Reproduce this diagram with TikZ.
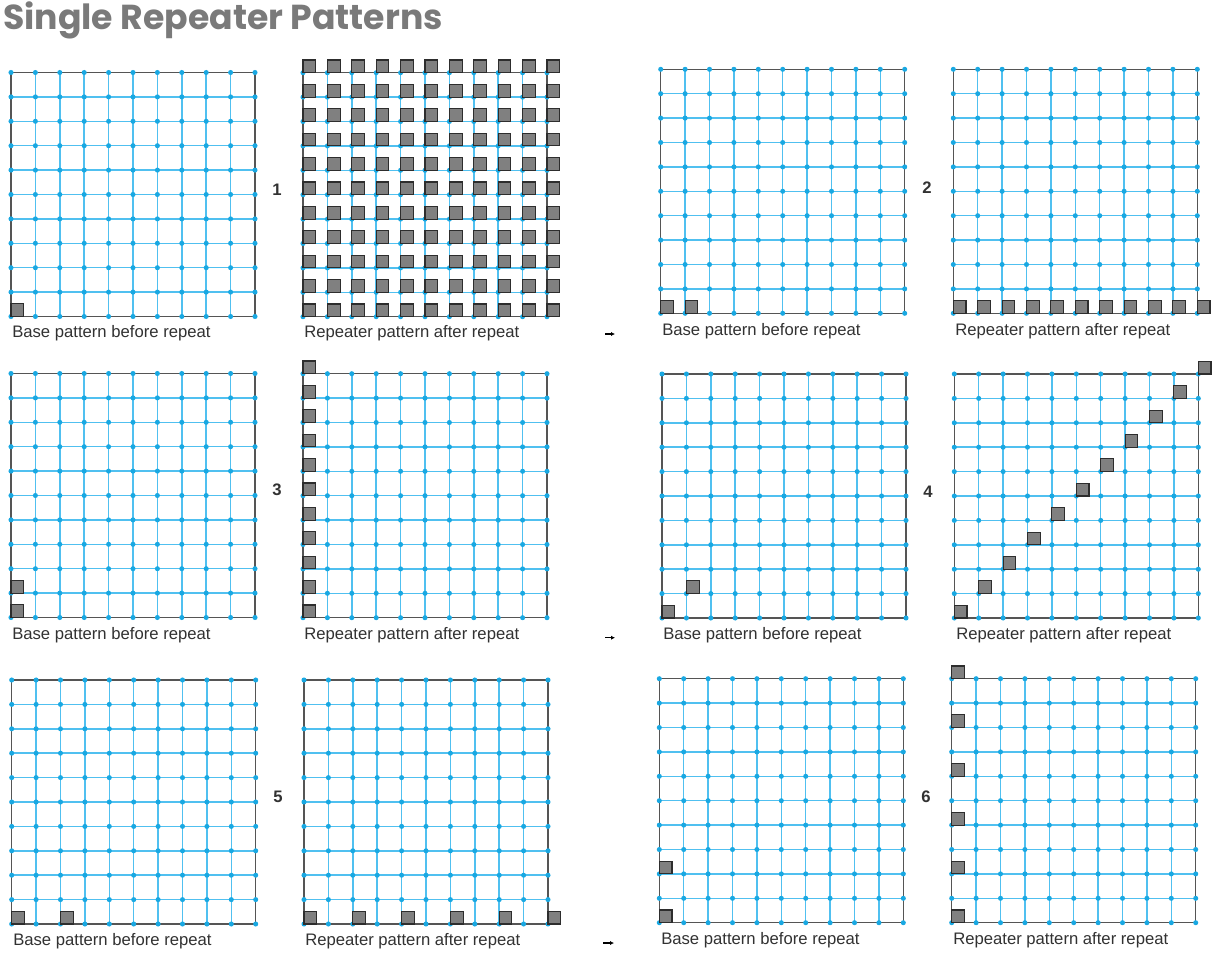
\documentclass[tikz,border=0pt]{standalone}
\usepackage{fontspec}
\setmainfont{Liberation Sans}
\newfontfamily\titlefont{Poppins}
\usetikzlibrary{arrows.meta}
\definecolor{gridcyan}{RGB}{80,192,240}
\definecolor{dotcyan}{RGB}{25,168,226}
\definecolor{bordergray}{RGB}{85,85,85}
\definecolor{squarefill}{RGB}{128,128,128}
\definecolor{squareedge}{RGB}{45,45,45}
\definecolor{labelgray}{RGB}{50,50,50}
\definecolor{titlegray}{RGB}{122,122,122}
\tikzset{
  gridline/.style={draw=gridcyan, line width=1.1pt},
  gridborder/.style={draw=bordergray, line width=1.1pt},
  sqbox/.style={fill=squarefill, draw=squareedge, line width=0.8pt},
  caption/.style={anchor=west, inner sep=0pt, text=labelgray, font=\fontsize{12.5}{14}\selectfont},
  numlabel/.style={inner sep=0pt, text=labelgray, font=\bfseries\fontsize{12.5}{14}\selectfont},
  smallarrow/.style={draw=black, line width=0.8pt, -{Latex[length=3pt,width=3.2pt]}}
}
\newcommand\rpgrid{%
  \foreach \k in {1,...,9} {%
    \draw[gridline] (\k*24.4,0) -- (\k*24.4,-244);
    \draw[gridline] (0,-\k*24.4) -- (244,-\k*24.4);
  }
  \draw[gridborder] (0,0) rectangle (244,-244);
  \foreach \i in {0,...,10} {\foreach \j in {0,...,10} {\fill[dotcyan] (\i*24.4,-\j*24.4) circle (1.9pt);}}
}
\newcommand\rpsq[2]{\draw[sqbox] (#1*24.4,-#2*24.4) rectangle ++(12.7,-12.7);}
\begin{document}
\begin{tikzpicture}[x=0.75pt,y=-0.75pt]
\useasboundingbox (0,0) rectangle (1213,956);
\fill[white] (0,0) rectangle (1213,956);

% title
\node[anchor=base west, inner sep=0pt, text=titlegray, font=\titlefont\bfseries\fontsize{26}{30}\selectfont] (title) at (3,30) {Single Repeater Patterns};

% ---------- row 1 ----------
\begin{scope}[shift={(11,316.5)}]
  \rpgrid \rpsq{0}{0}
\end{scope}
\begin{scope}[shift={(303,316.7)}]
  \rpgrid
  \foreach \i in {0,...,10} {\foreach \j in {0,...,10} {\rpsq{\i}{\j}}}
\end{scope}
\begin{scope}[shift={(660.7,313.3)}]
  \rpgrid \rpsq{0}{0} \rpsq{1}{0}
\end{scope}
\begin{scope}[shift={(953.3,313.3)}]
  \rpgrid
  \foreach \i in {0,...,10} {\rpsq{\i}{0}}
\end{scope}

% ---------- row 2 ----------
\begin{scope}[shift={(11,617.5)}]
  \rpgrid \rpsq{0}{0} \rpsq{0}{1}
\end{scope}
\begin{scope}[shift={(303,617.7)}]
  \rpgrid
  \foreach \j in {0,...,10} {\rpsq{0}{\j}}
\end{scope}
\begin{scope}[shift={(662,618)}]
  \rpgrid \rpsq{0}{0} \rpsq{1}{1}
\end{scope}
\begin{scope}[shift={(954.3,618)}]
  \rpgrid
  \foreach \i in {0,...,10} {\rpsq{\i}{\i}}
\end{scope}

% ---------- row 3 ----------
\begin{scope}[shift={(11.7,924)}]
  \rpgrid \rpsq{0}{0} \rpsq{2}{0}
\end{scope}
\begin{scope}[shift={(304,924)}]
  \rpgrid
  \foreach \i in {0,2,...,10} {\rpsq{\i}{0}}
\end{scope}
\begin{scope}[shift={(659.3,922.7)}]
  \rpgrid \rpsq{0}{0} \rpsq{0}{2}
\end{scope}
\begin{scope}[shift={(951.7,922.7)}]
  \rpgrid
  \foreach \j in {0,2,...,10} {\rpsq{0}{\j}}
\end{scope}

% numbers
\node[numlabel] (n1) at (277,190) {1};
\node[numlabel] (n2) at (927,188) {2};
\node[numlabel] (n3) at (277,490) {3};
\node[numlabel] (n4) at (928,492) {4};
\node[numlabel] (n5) at (278,797) {5};
\node[numlabel] (n6) at (926,797) {6};

% captions
\node[caption] (c1l) at (12,333.5) {Base pattern before repeat};
\node[caption] (c1r) at (304,333.5) {Repeater pattern after repeat};
\node[caption] (c2l) at (662,331.5) {Base pattern before repeat};
\node[caption] (c2r) at (955,331.5) {Repeater pattern after repeat};
\node[caption] (c3l) at (12,635) {Base pattern before repeat};
\node[caption] (c3r) at (304,635) {Repeater pattern after repeat};
\node[caption] (c4l) at (663,635) {Base pattern before repeat};
\node[caption] (c4r) at (956,635) {Repeater pattern after repeat};
\node[caption] (c5l) at (13,941) {Base pattern before repeat};
\node[caption] (c5r) at (305,941) {Repeater pattern after repeat};
\node[caption] (c6l) at (661,940) {Base pattern before repeat};
\node[caption] (c6r) at (953,940) {Repeater pattern after repeat};

% small arrows
\coordinate (a1s) at (605,334); \coordinate (a1e) at (615,334);
\coordinate (a2s) at (605,637.7); \coordinate (a2e) at (615,637.7);
\coordinate (a3s) at (603,943); \coordinate (a3e) at (614,943);
\draw[smallarrow] (a1s) -- (a1e);
\draw[smallarrow] (a2s) -- (a2e);
\draw[smallarrow] (a3s) -- (a3e);
\end{tikzpicture}
\end{document}
